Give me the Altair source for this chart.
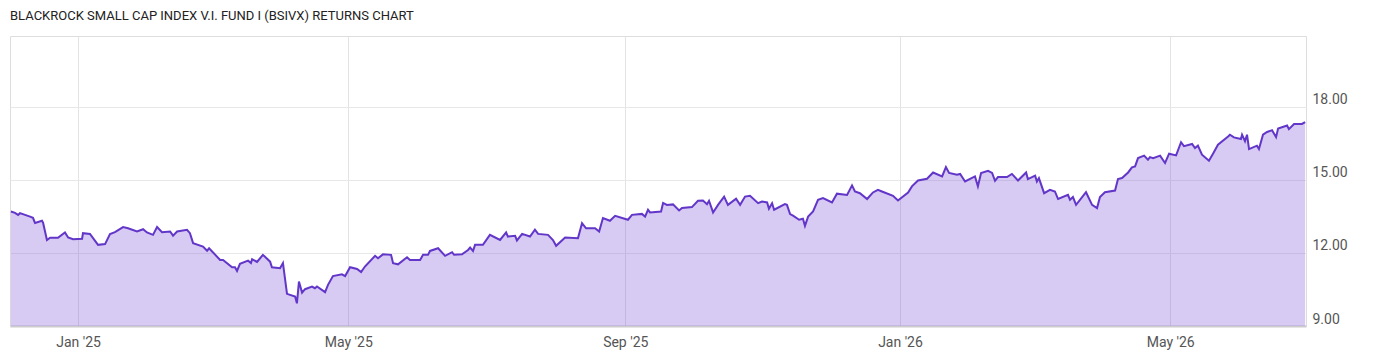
import altair as alt
import pandas as pd

TITLE = "BLACKROCK SMALL CAP INDEX V.I. FUND I (BSIVX) RETURNS CHART"
START = "2025-01-01"

# days relative to 2025-01-01
day_offsets = [
    -29.8, -28.0, -26.6, -25.8, -21.3, -20.0, -19.1, -16.0, -15.5, -13.8,
    -12.4, -8.9, -5.8, -4.4, -2.2, 1.8, 2.2, 5.3, 8.9, 12.0,
    14.2, 16.4, 20.0, 22.2, 26.2, 28.9, 30.6, 33.3, 35.1, 37.3,
    40.9, 42.2, 44.0, 48.4, 49.7, 51.1, 55.5, 57.3, 58.2, 63.1,
    64.4, 68.4, 69.7, 70.6, 71.9, 75.5, 76.8, 77.3, 79.5, 82.1,
    85.3, 86.1, 89.7, 91.0, 92.8, 96.4, 97.2, 98.1, 99.5, 100.8,
    103.9, 105.2, 106.1, 109.7, 111.0, 113.2, 117.2, 118.6, 120.8, 123.9,
    125.7, 127.4, 131.9, 133.2, 135.4, 139.0, 139.9, 142.1, 146.1, 147.4,
    151.9, 153.2, 155.4, 156.3, 159.9, 163.0, 166.1, 167.0, 170.5, 173.2,
    174.1, 175.4, 176.3, 179.8, 182.9, 187.4, 190.1, 190.9, 194.1, 194.9,
    197.2, 200.7, 202.9, 204.3, 208.7, 210.9, 212.3, 216.3, 222.0, 223.8,
    225.6, 229.6, 231.4, 233.1, 236.2, 238.5, 244.2, 246.0, 250.4, 251.8,
    253.1, 254.0, 258.9, 259.8, 261.5, 264.2, 266.9, 268.2, 272.6, 275.3,
    277.5, 279.3, 280.2, 282.0, 284.2, 286.9, 288.6, 292.2, 294.0, 296.2,
    298.4, 302.0, 303.7, 306.0, 306.8, 308.2, 309.1, 313.9, 314.8, 316.2,
    317.5, 320.2, 321.9, 322.8, 324.2, 326.4, 328.6, 330.8, 334.8, 337.0,
    341.5, 343.7, 345.0, 347.2, 350.4, 353.0, 355.2, 357.0, 361.9, 364.1,
    368.6, 370.3, 373.0, 377.0, 379.7, 383.7, 385.4, 386.8, 390.3, 391.7,
    393.9, 398.3, 399.6, 401.0, 404.1, 405.9, 407.2, 408.5, 412.5, 414.7,
    417.4, 421.0, 421.8, 425.0, 425.8, 426.7, 429.0, 431.6, 433.8, 435.2,
    439.6, 440.5, 441.8, 443.2, 447.6, 450.3, 452.5, 453.8, 456.0, 460.5,
    461.8, 463.6, 466.3, 468.0, 469.4, 470.7, 473.4, 475.1, 476.0, 477.4,
    480.5, 482.7, 484.5, 487.6, 489.8, 491.1, 494.7, 496.0, 497.3, 499.1,
    502.2, 504.0, 506.2, 510.7, 511.5, 513.3, 516.4, 516.9, 518.2, 519.1,
    520.0, 523.5, 524.4, 526.2, 528.0, 530.2, 532.0, 532.9, 536.9, 537.7,
    540.0, 543.5, 544.9,
]

prices = [
    13.70, 13.64, 13.56, 13.63, 13.49, 13.44, 13.23, 13.32, 13.23, 12.53,
    12.62, 12.62, 12.84, 12.63, 12.56, 12.58, 12.81, 12.78, 12.33, 12.36,
    12.77, 12.85, 13.06, 13.01, 12.88, 12.97, 12.84, 12.74, 13.06, 12.85,
    12.88, 12.71, 12.88, 12.95, 12.81, 12.40, 12.26, 12.09, 12.19, 11.71,
    11.71, 11.41, 11.41, 11.26, 11.55, 11.68, 11.58, 11.74, 11.63, 11.92,
    11.64, 11.41, 11.37, 11.58, 10.32, 10.21, 9.93, 10.82, 10.37, 10.51,
    10.62, 10.55, 10.62, 10.39, 10.69, 11.05, 11.12, 11.05, 11.41, 11.34,
    11.21, 11.44, 11.88, 11.78, 11.94, 11.92, 11.58, 11.53, 11.82, 11.71,
    11.71, 11.92, 11.92, 12.08, 12.19, 11.88, 12.03, 11.92, 11.94, 12.12,
    12.22, 12.08, 12.33, 12.33, 12.74, 12.53, 12.84, 12.67, 12.70, 12.51,
    12.78, 12.67, 12.95, 12.78, 12.74, 12.53, 12.29, 12.63, 12.60, 13.22,
    13.01, 13.01, 12.88, 13.43, 13.32, 13.52, 13.36, 13.56, 13.60, 13.49,
    13.77, 13.66, 13.70, 14.05, 13.97, 13.99, 13.74, 13.84, 13.88, 14.14,
    14.15, 14.00, 14.14, 13.66, 13.97, 14.31, 13.97, 14.22, 13.97, 14.31,
    14.34, 14.04, 14.11, 14.07, 13.81, 14.04, 13.77, 14.00, 13.97, 13.59,
    13.53, 13.36, 13.40, 13.11, 13.49, 13.70, 14.18, 14.25, 14.07, 14.43,
    14.38, 14.77, 14.52, 14.45, 14.21, 14.48, 14.59, 14.52, 14.34, 14.15,
    14.48, 14.73, 14.97, 15.04, 15.30, 15.14, 15.52, 15.28, 15.21, 15.24,
    14.93, 15.14, 14.73, 15.28, 15.37, 15.28, 14.96, 15.11, 15.11, 15.24,
    14.97, 15.30, 15.03, 15.17, 14.93, 15.07, 14.45, 14.59, 14.52, 14.21,
    14.38, 14.18, 14.29, 13.97, 14.49, 13.97, 13.84, 14.29, 14.49, 14.56,
    15.03, 15.07, 15.30, 15.51, 15.55, 15.89, 15.99, 15.82, 15.93, 15.89,
    15.99, 15.69, 16.07, 16.00, 16.54, 16.38, 16.47, 16.30, 16.40, 16.03,
    15.78, 16.07, 16.44, 16.78, 16.85, 16.74, 16.67, 16.85, 16.58, 16.85,
    16.26, 16.40, 16.26, 16.85, 16.96, 17.03, 16.75, 17.10, 17.23, 17.08,
    17.29, 17.29, 17.37,
]

x_tick_dates = ["2025-01-01", "2025-05-01", "2025-09-01", "2026-01-01", "2026-05-01"]
y_ticks = [9, 12, 15, 18]
x_domain = ["2024-12-01T19:00:00", "2026-06-30T07:00:00"]
y_domain = [9, 20.9]

dates = pd.to_datetime(START) + pd.to_timedelta(day_offsets, unit="D")
df = pd.DataFrame({"date": dates, "price": prices})

FONT = "Roboto"

x_enc = alt.X(
    "date:T",
    scale=alt.Scale(domain=x_domain),
    axis=alt.Axis(
        values=[pd.Timestamp(d).isoformat() for d in x_tick_dates],
        format="%b '%y",
        title=None,
        ticks=False,
        domain=True,
        domainColor="#cccccc",
        domainWidth=2,
        grid=True,
        gridColor="#e3e3e3",
        labelFont=FONT,
        labelFontSize=14,
        labelColor="#555555",
        labelPadding=9,
    ),
)
y_enc = alt.Y(
    "price:Q",
    scale=alt.Scale(domain=y_domain, nice=False, zero=False),
    axis=alt.Axis(
        orient="right",
        values=y_ticks,
        format=".2f",
        title=None,
        ticks=False,
        domain=False,
        grid=True,
        gridColor="#e8e8e8",
        labelFont=FONT,
        labelFontSize=14,
        labelColor="#555555",
        labelBaseline="bottom",
        labelAlign="left",
        labelPadding=6,
    ),
)

base = alt.Chart(df)
area = base.mark_area(color="#7b4fd6", opacity=0.3, clip=True).encode(x=x_enc, y=y_enc)
line = base.mark_line(color="#6236c8", strokeWidth=2, clip=True).encode(x="date:T", y="price:Q")

chart = (
    alt.layer(area, line)
    .properties(
        width=1296,
        height=290,
        title=alt.TitleParams(
            text=TITLE,
            anchor="start",
            font=FONT,
            fontSize=13,
            fontWeight="normal",
            color="#222222",
            offset=13,
        ),
        autosize=alt.AutoSizeParams(type="none"),
        padding={"left": 10, "top": 36, "right": 94, "bottom": 31},
    )
    .configure_view(stroke="#e2e2e2", strokeWidth=1)
    .configure(background="white")
)

chart.save("out.html", embed_options={"renderer": "svg", "actions": False})
